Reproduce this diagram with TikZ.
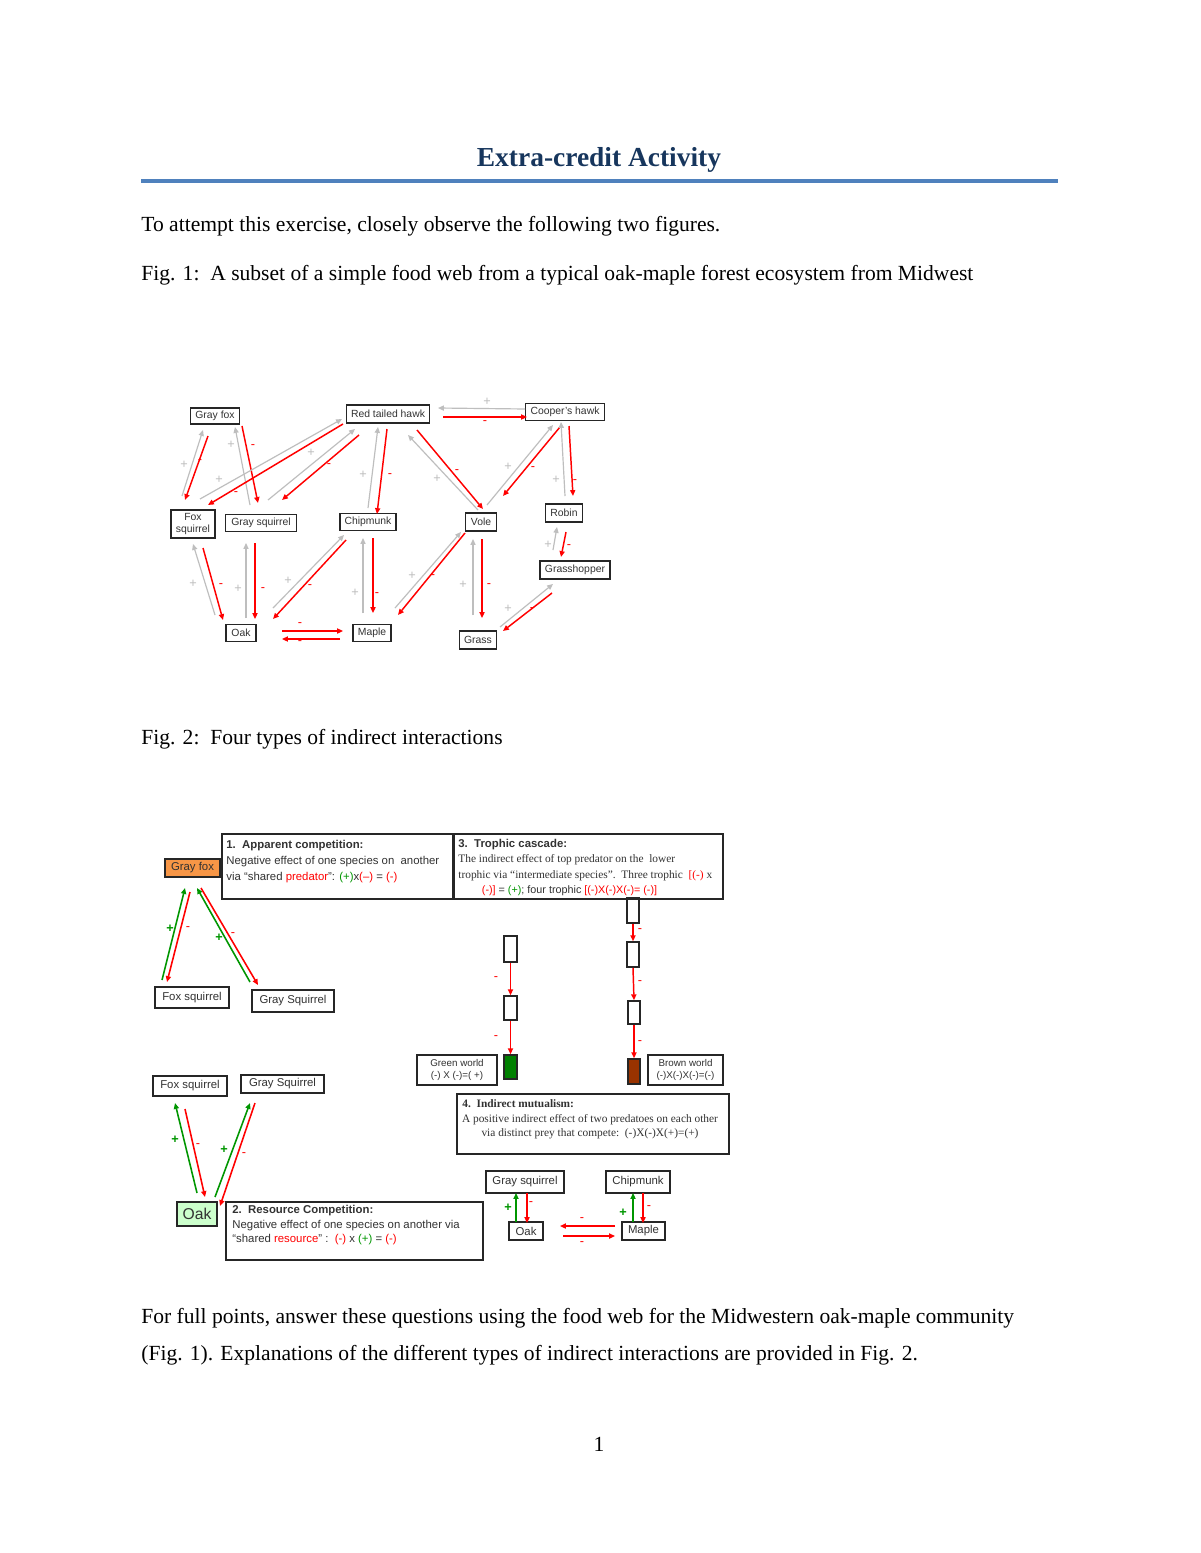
\documentclass[tikz,border=0pt]{standalone}
\usepackage{fontspec}
\setmainfont{Liberation Serif}
\setsansfont{Liberation Sans}
\usetikzlibrary{arrows.meta,calc}
\definecolor{titleblue}{RGB}{23,54,93}
\definecolor{rulec}{RGB}{79,129,189}
\definecolor{pgray}{RGB}{190,190,190}
\definecolor{mred}{RGB}{255,0,0}
\definecolor{pgreen}{RGB}{0,150,0}
\definecolor{dgreen}{RGB}{0,128,0}
\definecolor{brownw}{RGB}{153,51,0}
\definecolor{orangef}{RGB}{247,150,70}
\definecolor{oakf}{RGB}{204,255,204}
\definecolor{txt}{RGB}{50,50,50}
\newcommand\arw[7]{\draw[#1] ([shift={(#3,#4)}]#2.center) -- ([shift={(#6,#7)}]#5.center);}
\begin{document}
\begin{tikzpicture}[x=0.51pt,y=-0.51pt,
  sp/.style 2 args={draw=black!85, line width=0.8pt, inner sep=0pt,
    minimum width=#1*0.51pt, minimum height=#2*0.51pt,
    font=\sffamily\fontsize{5.3}{6.3}\selectfont, text=txt},
  sq/.style 2 args={sp={#1}{#2}, font=\sffamily\fontsize{5.8}{6.8}\selectfont},
  tip/.style={-{Triangle[length=3pt,width=2.6pt]}},
  grayarr/.style={pgray, line width=0.6pt, tip},
  redarr/.style={mred, line width=0.75pt, tip},
  greenarr/.style={pgreen, line width=0.8pt, tip},
  redarrb/.style={mred, line width=0.8pt, tip},
  pl/.style={text=pgray, inner sep=0pt, font=\sffamily\fontsize{6.5}{7}\selectfont},
  mn/.style={text=mred, inner sep=0pt, font=\sffamily\fontsize{6.5}{7}\selectfont},
  gpl/.style={text=pgreen, inner sep=0pt, font=\sffamily\bfseries\fontsize{6.5}{7}\selectfont},
  body/.style={anchor=base west, inner sep=0pt, font=\fontsize{11}{13}\selectfont},
  boxtxt/.style={anchor=north west, inner sep=0pt, align=left, text=txt,
    font=\sffamily\fontsize{5.8}{8.2}\selectfont},
  frame/.style={draw=black!85, line width=0.8pt, inner sep=0pt, anchor=north west}
]
\path[use as bounding box, fill=white] (0,0) rectangle (1200,1553);

% ---------- heading ----------
\node[anchor=base, inner sep=0pt, text=titleblue, font=\bfseries\fontsize{14}{16}\selectfont] (title) at (599,167) {Extra-credit Activity};
\draw[rulec, line width=1.6pt] (141,181) -- (1058,181);
\node[body] (t1) at (141,232) {To attempt this exercise, closely observe the following two figures.};
\node[body] (t2) at (141,280) {Fig. 1:\ \ A subset of a simple food web from a typical oak-maple forest ecosystem from Midwest};
\node[body] (t3) at (141,744) {Fig. 2:\ \ Four types of indirect interactions};
\node[body] (t4) at (141,1323) {For full points, answer these questions using the food web for the Midwestern oak-maple community};
\node[body] (t5) at (141,1360) {(Fig. 1). Explanations of the different types of indirect interactions are provided in Fig. 2.};
\node[anchor=base, inner sep=0pt, font=\fontsize{11}{13}\selectfont] (pg) at (599,1451) {1};

% ---------- Fig. 1 ----------
\node[sp={49}{16}] (gf) at (215,416) {Gray fox};
\node[sp={83}{18}] (rth) at (388,414) {Red tailed hawk};
\node[sp={79}{17}] (ch) at (565,412) {Cooper's hawk};
\node[sp={44}{28}, align=center] (fs) at (193,524) {Fox\\squirrel};
\node[sp={71}{17}] (gs) at (261,523) {Gray squirrel};
\node[sp={56}{17}] (cm) at (368,522) {Chipmunk};
\node[sp={31}{18}] (vo) at (481,522) {Vole};
\node[sp={37}{18}] (ro) at (564,513) {Robin};
\node[sp={70}{18}] (gh) at (575,570) {Grasshopper};
\node[sp={30}{17}] (oak) at (241,633) {Oak};
\node[sp={38}{17}] (mp) at (372,633) {Maple};
\node[sp={37}{18}] (gr) at (478,640) {Grass};

\arw{grayarr}{fs}{-11}{-28}{gf}{-12}{14}  \arw{redarr}{gf}{-7}{20}{fs}{-8}{-24}
\arw{grayarr}{gs}{-11}{-18}{gf}{20}{11}   \arw{redarr}{gf}{27}{10}{gs}{-3}{-20}
\arw{grayarr}{fs}{7}{-25}{rth}{-46}{5}    \arw{redarr}{rth}{-45}{10}{fs}{15}{-19}
\arw{grayarr}{gs}{7}{-23}{rth}{-33}{15}   \arw{redarr}{rth}{-29}{21}{gs}{21}{-23}
\arw{grayarr}{cm}{0}{-14}{rth}{-10}{13}   \arw{redarr}{rth}{-1}{15}{cm}{9}{-8}
\arw{grayarr}{ch}{-40}{-3}{rth}{50}{-6}   \arw{redarr}{rth}{55}{3}{ch}{-38}{5}
\arw{grayarr}{vo}{-3}{-12}{rth}{20}{21}   \arw{redarr}{rth}{29}{16}{vo}{2}{-13}
\arw{grayarr}{vo}{6}{-17}{ch}{-12}{13}    \arw{redarr}{ch}{-5}{15}{vo}{22}{-26}
\arw{grayarr}{ro}{1}{-17}{ch}{-4}{10}     \arw{redarr}{ch}{4}{14}{ro}{9}{-17}
\arw{grayarr}{gh}{-22}{-20}{ro}{-7}{14}   \arw{redarr}{ro}{2}{19}{gh}{-14}{-13}
\arw{grayarr}{gr}{22}{-13}{gh}{-22}{14}   \arw{redarr}{gh}{-23}{23}{gr}{25}{-9}
\arw{grayarr}{gr}{-5}{-25}{vo}{-8}{17}    \arw{redarr}{vo}{1}{17}{gr}{4}{-22}
\arw{grayarr}{mp}{23}{-25}{vo}{-20}{10}   \arw{redarr}{vo}{-16}{11}{mp}{26}{-18}
\arw{grayarr}{mp}{-9}{-20}{cm}{-5}{16}    \arw{redarr}{cm}{5}{16}{mp}{1}{-20}
\arw{grayarr}{oak}{-26}{-18}{fs}{0}{20}   \arw{redarr}{fs}{10}{24}{oak}{-18}{-13}
\arw{grayarr}{oak}{5}{-15}{gs}{-15}{20}   \arw{redarr}{gs}{-6}{20}{oak}{14}{-14}
\arw{grayarr}{oak}{32}{-25}{cm}{-24}{13}  \arw{redarr}{cm}{-22}{18}{oak}{32}{-14}
\arw{redarr}{oak}{41}{-2}{mp}{-29}{-2}    \arw{redarr}{mp}{-32}{6}{oak}{41}{6}

\node[pl] (p1) at (184,465) {+};  \node[mn] (m1) at (200,462) {-};
\node[pl] (p2) at (231,445) {+};  \node[mn] (m2) at (253,447) {-};
\node[pl] (p3) at (219,480) {+};  \node[mn] (m3) at (236,494) {-};
\node[pl] (p4) at (311,453) {+};  \node[mn] (m4) at (329,466) {-};
\node[pl] (p5) at (363,475) {+};  \node[mn] (m5) at (390,476) {-};
\node[pl] (p6) at (487,402) {+};  \node[mn] (m6) at (485,423) {-};
\node[pl] (p7) at (437,479) {+};  \node[mn] (m7) at (457,472) {-};
\node[pl] (p8) at (508,467) {+};  \node[mn] (m8) at (533,469) {-};
\node[pl] (p9) at (556,480) {+};  \node[mn] (m9) at (575,482) {-};
\node[pl] (p10) at (548,545) {+}; \node[mn] (m10) at (569,547) {-};
\node[pl] (p11) at (508,609) {+}; \node[mn] (m11) at (532,610) {-};
\node[pl] (p12) at (463,585) {+}; \node[mn] (m12) at (489,586) {-};
\node[pl] (p13) at (412,576) {+}; \node[mn] (m13) at (433,577) {-};
\node[pl] (p14) at (355,593) {+}; \node[mn] (m14) at (377,595) {-};
\node[pl] (p15) at (193,584) {+}; \node[mn] (m15) at (221,586) {-};
\node[pl] (p16) at (238,589) {+}; \node[mn] (m16) at (263,590) {-};
\node[pl] (p17) at (288,581) {+}; \node[mn] (m17) at (310,587) {-};
\node[mn] (m18) at (300,625) {-};  \node[mn] (m19) at (300,643) {-};

% ---------- Fig. 2 : box 1 (apparent competition) ----------
\node[frame, minimum width=231*0.51pt, minimum height=65*0.51pt] (b1) at (221,833) {};
\node[boxtxt] (b1t) at (226,840) {{\bfseries 1.\ \ Apparent competition:}\\
Negative effect of one species on\ \ another\\
via “shared {\color{mred}predator}”: {\color{pgreen}(+)}x{\color{mred}(–)} = {\color{mred}(-)}};
\node[sq={55}{18}, fill=orangef] (gfx) at (192.5,868) {Gray fox};
\node[sq={74}{21}] (fs2) at (192,997.5) {Fox squirrel};
\node[sq={82}{22}] (gs2) at (293,1001) {Gray Squirrel};
\arw{greenarr}{fs2}{-30}{-17.5}{gfx}{-7.5}{20}  \arw{redarrb}{gfx}{-2.5}{24}{fs2}{-25}{-15.5}
\arw{greenarr}{gs2}{-43}{-19}{gfx}{4.5}{20}     \arw{redarrb}{gfx}{8.5}{20}{gs2}{-35}{-16}
\node[gpl] (q1) at (170,929) {+}; \node[mn] (n1) at (188,929) {-};
\node[gpl] (q2) at (219,938) {+}; \node[mn] (n2) at (233,935) {-};

% ---------- box 3 (trophic cascade) ----------
\node[frame, minimum width=269*0.51pt, minimum height=65*0.51pt] (b3) at (453,833) {};
\node[boxtxt, font=\fontsize{5.8}{7.8}\selectfont] (b3t) at (458,839) {{\sffamily\bfseries 3.\ \ Trophic cascade:}\\
The indirect effect of top predator on the\ \ lower\\
trophic via “intermediate species”.\ \ Three trophic\ \ {\color{mred}[(-)} x\\
\hspace*{12pt}{\sffamily\fontsize{5.5}{7.8}\selectfont{\color{mred}(-)]} = {\color{pgreen}(+)}; four trophic {\color{mred}[(-)X(-)X(-)= (-)]}}};

\node[sp={12}{25}] (r1) at (633,910.5) {};
\node[sp={12}{25}] (r2) at (633,954.5) {};
\node[sp={12}{23}] (r3) at (634,1012.5) {};
\node[sp={12}{25}, fill=brownw] (r4) at (634,1071.5) {};
\draw[redarr] (r1.south) -- (r2.north);
\draw[redarr] (r2.south) -- (r3.north);
\draw[redarr] (r3.south) -- (r4.north);
\node[mn] (n3) at (640,931) {-}; \node[mn] (n4) at (640,983) {-}; \node[mn] (n5) at (640,1043) {-};
\node[sp={75}{30}, align=center, font=\sffamily\fontsize{5}{6.5}\selectfont] (bw) at (685.5,1070) {Brown world\\(-)X(-)X(-)=(-)};

\node[sp={13}{26}] (l1) at (510.5,949) {};
\node[sp={13}{24}] (l2) at (510.5,1008) {};
\node[sp={13}{24}, fill=dgreen] (l3) at (510.5,1067) {};
\draw[redarr] (l1) -- (l2);
\draw[redarr] (l2) -- (l3);
\node[mn] (n6) at (496,979) {-}; \node[mn] (n7) at (496,1038) {-};
\node[sp={80}{30}, align=center, font=\sffamily\fontsize{5}{6.5}\selectfont] (gw) at (457,1070) {Green world\\(-) X (-)=( +)};

% ---------- box 2 (resource competition) ----------
\node[sq={74}{20}] (fs3) at (190,1086) {Fox squirrel};
\node[sq={83}{18}] (gs3) at (282.5,1084) {Gray Squirrel};
\node[sp={40}{24}, fill=oakf, font=\sffamily\fontsize{8}{9}\selectfont] (oak3) at (197,1214) {Oak};
\arw{greenarr}{oak3}{0}{-21}{fs3}{-15}{17}     \arw{redarrb}{fs3}{-5}{23}{oak3}{8}{-17}
\arw{greenarr}{oak3}{18}{-17}{gs3}{-32.5}{19}  \arw{redarrb}{gs3}{-27.5}{19}{oak3}{23}{-8}
\node[gpl] (q3) at (175,1140) {+}; \node[mn] (n8) at (198,1146) {-};
\node[gpl] (q4) at (224,1150) {+}; \node[mn] (n9) at (244,1155) {-};
\node[frame, minimum width=257*0.51pt, minimum height=58*0.51pt] (b2) at (225,1201) {};
\node[boxtxt, font=\sffamily\fontsize{5.8}{6.8}\selectfont] (b2t) at (232,1205) {{\bfseries 2.\ \ Resource Competition:}\\[1pt]
Negative effect of one species on another via\\
“shared {\color{mred}resource}” :\ \ {\color{mred}(-)} x {\color{pgreen}(+)} = {\color{mred}(-)}};

% ---------- box 4 (indirect mutualism) ----------
\node[frame, minimum width=272*0.51pt, minimum height=60*0.51pt] (b4) at (456,1093) {};
\node[boxtxt, font=\bfseries\fontsize{5.8}{7}\selectfont] (b4t) at (462,1099) {4.\ \ Indirect mutualism:};
\node[anchor=north, inner sep=0pt, align=center, text=txt, font=\fontsize{5.8}{7.1}\selectfont] (b4b) at (590,1114) {A positive indirect effect of two predatoes on each other\\
via distinct prey that compete:\ \ (-)X(-)X(+)=(+)};
\node[sq={78}{22}] (gs4) at (525,1182) {Gray squirrel};
\node[sq={64}{22}] (cm4) at (638,1182) {Chipmunk};
\node[sq={34}{18}] (oak4) at (526,1231) {Oak};
\node[sq={43}{18}] (ma4) at (643.5,1231) {Maple};
\arw{greenarr}{oak4}{-10}{-9}{gs4}{-9}{11}
\arw{redarrb}{gs4}{2}{11}{oak4}{1}{-8}
\arw{greenarr}{ma4}{-10.5}{-9}{cm4}{-5}{11}
\arw{redarrb}{cm4}{5}{11}{ma4}{-0.5}{-8}
\arw{redarrb}{ma4}{-28.5}{-5}{oak4}{34}{-5}
\arw{redarrb}{oak4}{37}{5}{ma4}{-28.5}{5}
\node[gpl] (q5) at (508,1208) {+}; \node[mn] (n10) at (531,1204) {-};
\node[gpl] (q6) at (623,1213) {+}; \node[mn] (n11) at (649,1208) {-};
\node[mn] (n12) at (582,1220) {-}; \node[mn] (n13) at (582,1244) {-};
\end{tikzpicture}
\end{document}
